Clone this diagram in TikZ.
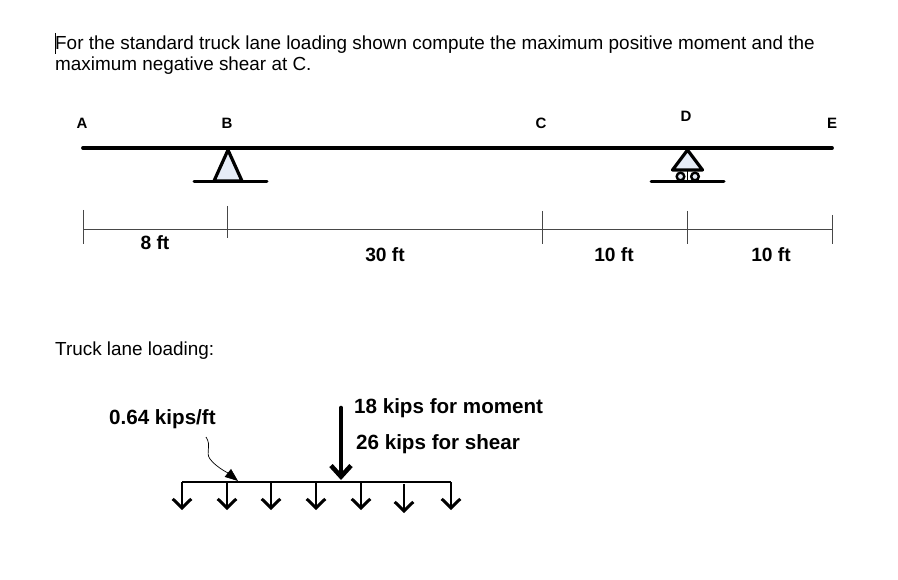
\documentclass[tikz,border=0pt]{standalone}
\usepackage{fontspec}
\setmainfont{Liberation Sans}
\usetikzlibrary{arrows.meta}
\definecolor{suppfill}{HTML}{E6ECF7}
\tikzset{
  body/.style={anchor=base west,inner sep=0pt,font=\fontsize{18.9}{21}\selectfont},
  ptlabel/.style={anchor=base,inner sep=0pt,font=\fontsize{15}{17}\selectfont\bfseries},
  dimlabel/.style={anchor=base,inner sep=0pt,font=\fontsize{19.2}{21}\selectfont\bfseries},
  loadlabel/.style={anchor=base west,inner sep=0pt,font=\fontsize{20.6}{23}\selectfont\bfseries},
  beam/.style={line width=3.8pt,line cap=round},
  supportline/.style={line width=3pt,line cap=round},
  supportshape/.style={line width=3.2pt,fill=suppfill,line join=round},
  dimline/.style={line width=1pt,draw=black!72},
  udl/.style={line width=2.8pt,-{Straight Barb[length=9pt,width=18.5pt,line width=3pt]}},
  bigload/.style={line width=4.6pt,line cap=round,-{Straight Barb[length=11pt,width=20pt,line width=4.6pt]}},
}
\begin{document}
\begin{tikzpicture}[x=1pt,y=-1pt]
\useasboundingbox (0,0) rectangle (898,580);
\fill[white] (0,0) rectangle (898,580);
% text
\node[body] (t1) at (55,50) {For the standard truck lane loading shown compute the maximum positive moment and the};
\node[body] (t2) at (55,71) {maximum negative shear at C.};
\draw[line width=0.8pt] (55,33) -- (55,54);
% point labels
\node[ptlabel] (lA) at (82,129) {A};
\node[ptlabel] (lB) at (227,129) {B};
\node[ptlabel] (lC) at (541,129) {C};
\node[ptlabel] (lD) at (686,122) {D};
\node[ptlabel] (lE) at (832,129) {E};
% beam
\coordinate (A) at (83,148);
\coordinate (E) at (832,148);
\draw[beam] (A) -- (E);
% support B
\coordinate (bt) at (228,150);
\coordinate (bl) at (214,181);
\coordinate (br) at (242,181);
\draw[supportshape] (bt) -- (bl) -- (br) -- cycle;
\draw[supportline] (194,182) -- (267,182);
% support D
\coordinate (dt) at (687.5,150);
\coordinate (dl) at (672.5,170);
\coordinate (dr) at (702.5,170);
\draw[supportshape] (dt) -- (dl) -- (dr) -- cycle;
\draw[line width=2.4pt,fill=suppfill] (680.5,176.5) circle (3.8);
\draw[line width=2.4pt,fill=suppfill] (695,176.5) circle (3.8);
\draw[line width=1.6pt] (687.5,171) -- (687.5,181);
\draw[supportline] (651,182) -- (724,182);
% dimensions
\coordinate (d1) at (83,229.5);
\coordinate (d2) at (227.5,229.5);
\coordinate (d3) at (542.5,229.5);
\coordinate (d4) at (687.5,229.5);
\coordinate (d5) at (832,229.5);
\draw[dimline] (d1) -- (d5);
\draw[dimline] (83,210) -- (83,244.5);
\draw[dimline] (227.5,206) -- (227.5,238);
\draw[dimline] (542.5,211) -- (542.5,244.5);
\draw[dimline] (687.5,211) -- (687.5,244.5);
\draw[dimline] (832,215) -- (832,244.5);
\node[dimlabel] (l8) at (155,250) {8 ft};
\node[dimlabel] (l30) at (385,262) {30 ft};
\node[dimlabel] (l10a) at (614,262) {10 ft};
\node[dimlabel] (l10b) at (771,262) {10 ft};
% loading
\node[body] (tl) at (55,355.5) {Truck lane loading:};
\node[loadlabel] (w) at (109,424.5) {0.64 kips/ft};
\node[loadlabel] (p1) at (354,413.5) {18 kips for moment};
\node[loadlabel] (p2) at (356,449) {26 kips for shear};
\coordinate (ls) at (182,482);
\coordinate (le) at (451,482);
\draw[line width=2.4pt] (ls) -- (le);
\foreach \n/\xx/\ya/\yb in {u1/182/482/510,u2/227/482/510,u3/271/482/510,u4/316/482/510,u5/361/482/510,u6/404/484/513,u7/451/482/510}{
  \coordinate (\n a) at (\xx,\ya);
  \coordinate (\n b) at (\xx,\yb);
  \draw[udl] (\n a) -- (\n b);
}
\coordinate (pa) at (341,408);
\coordinate (pb) at (341,480);
\draw[bigload] (pa) -- (pb);
\coordinate (ca) at (206,437);
\coordinate (cb) at (238,481);
\draw[line width=0.7pt,-{Stealth[inset=0pt,length=13pt,width=10pt]}] (ca) .. controls (212,446) and (205,452) .. (210,459) .. controls (216,467) and (228,473) .. (cb);
\end{tikzpicture}
\end{document}
